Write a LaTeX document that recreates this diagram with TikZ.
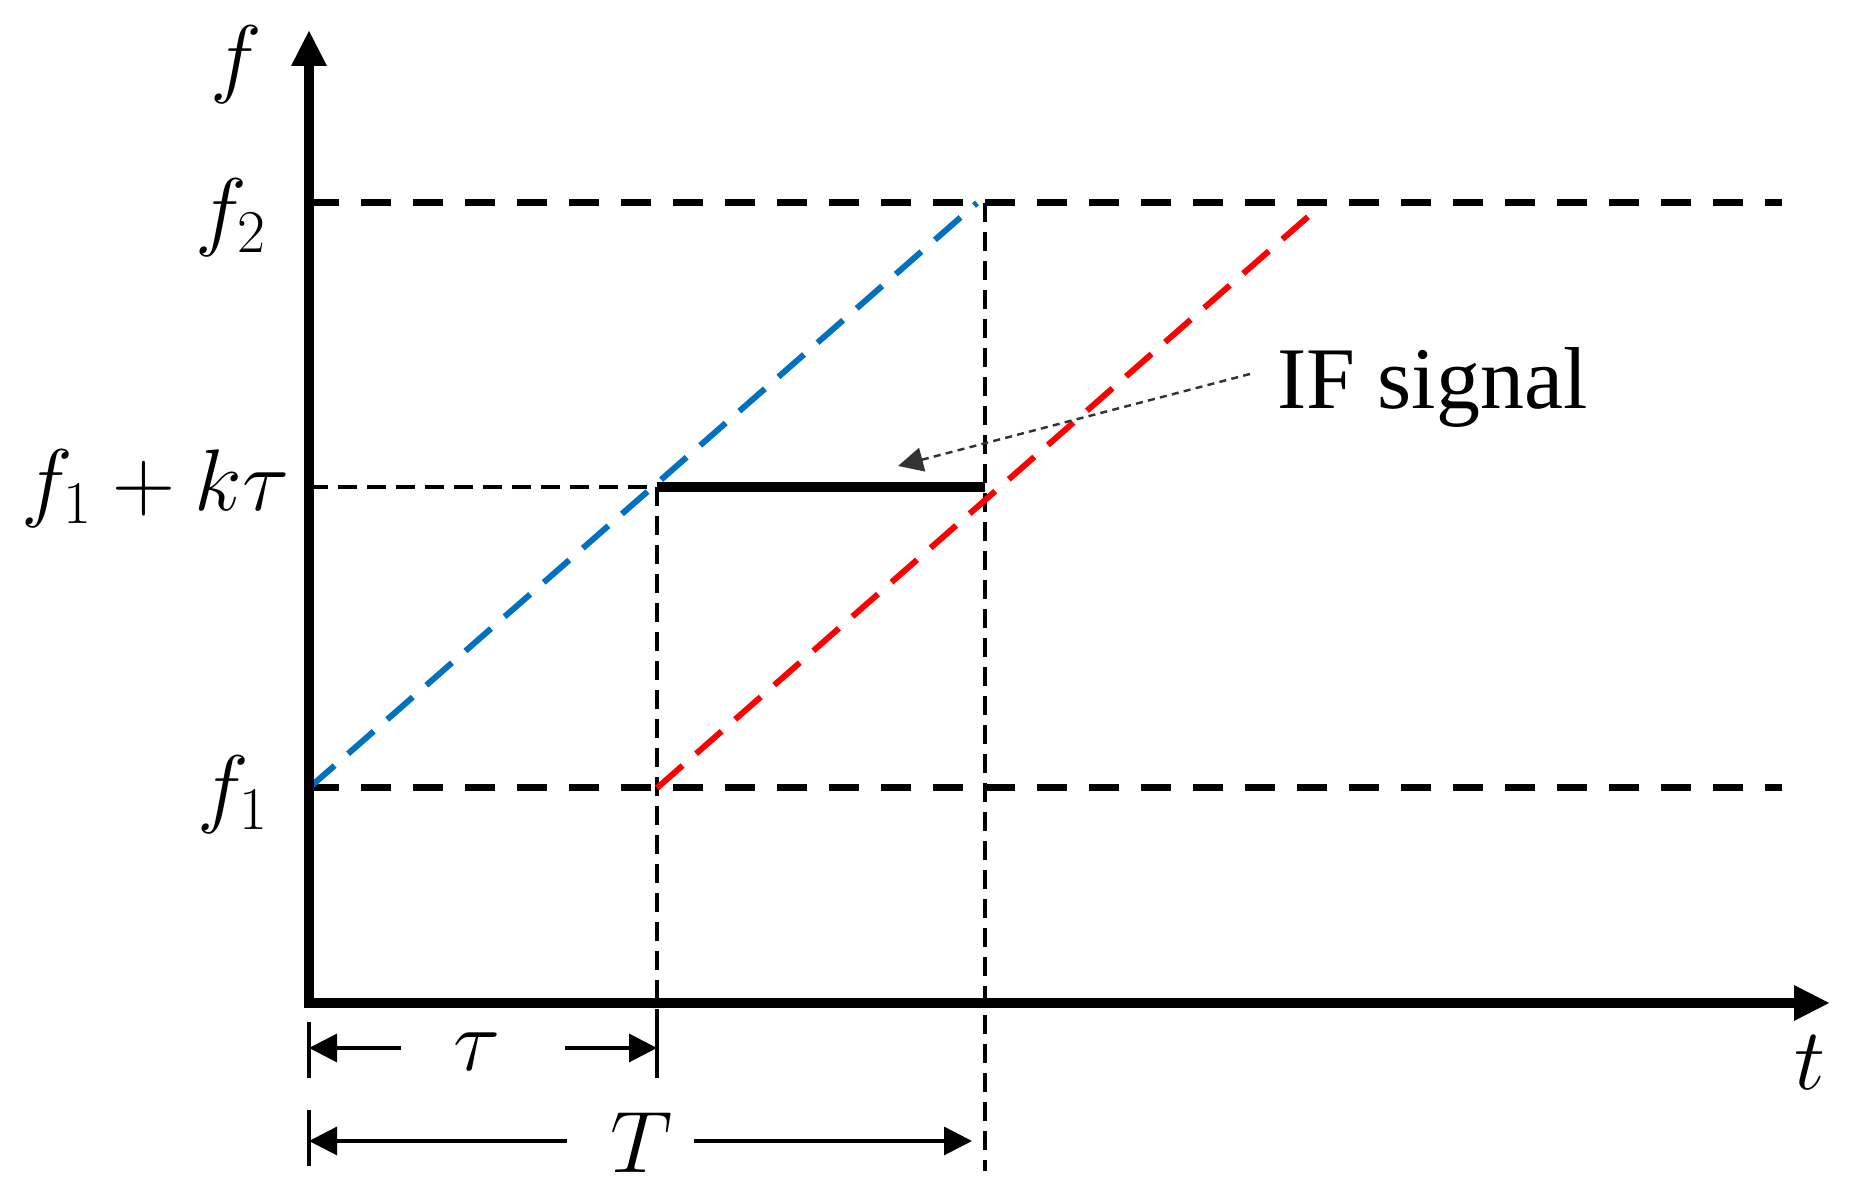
\documentclass[tikz,border=0pt]{standalone}
\usepackage{fontspec}
\newfontfamily\ifserif{Liberation Serif}
\usetikzlibrary{arrows.meta}
\definecolor{chirpblue}{RGB}{0,112,192}
\definecolor{chirpred}{RGB}{255,0,0}
\begin{document}
\begin{tikzpicture}[
  axis/.style={line width=3.1pt,{Triangle[length=0.36cm,width=0.33cm]}-{Triangle[length=0.36cm,width=0.33cm]}},
  level/.style={line width=2pt,dash pattern=on 0.30cm off 0.22cm},
  guide/.style={line width=1.1pt,dash pattern=on 0.19cm off 0.10cm},
  chirp/.style={line width=1.7pt,dash pattern=on 0.34cm off 0.18cm},
  dimline/.style={line width=0.9pt,-{Triangle[length=0.28cm,width=0.28cm]}},
  ifarrow/.style={line width=0.7pt,black!80,dash pattern=on 2pt off 1.5pt,-{Triangle[length=0.25cm,width=0.24cm]}},
  tickmark/.style={line width=1.1pt},
  lab/.style={font=\fontsize{25}{30}\selectfont,inner sep=0pt}]
\useasboundingbox (0,0) rectangle (18.5,11.9);
\coordinate (O) at (3.09,1.87);
\coordinate (ytip) at (3.09,11.60);
\coordinate (xtip) at (18.30,1.87);
\coordinate (f1a) at (3.09,4.02);
\coordinate (f1b) at (17.82,4.02);
\coordinate (f2a) at (3.09,9.87);
\coordinate (f2b) at (17.82,9.87);
\coordinate (fka) at (3.09,7.03);
\coordinate (fkb) at (6.57,7.03);
\coordinate (fkc) at (9.85,7.03);
\coordinate (Ttop) at (9.85,9.87);
\coordinate (blueend) at (9.77,9.87);
\coordinate (redstart) at (6.57,4.02);
\coordinate (redend) at (13.10,9.75);
% levels and guides
\draw[level] (f2a) -- (f2b);
\draw[level] (f1a) -- (f1b);
\draw[guide] (fka) -- (fkb);
\draw[guide] (fkb) -- (6.57,1.68);
\draw[guide] (Ttop) -- (9.85,0.19);
% sweeps
\draw[chirp,chirpblue] (f1a) -- (blueend);
\draw[chirp,chirpred] (redstart) -- (redend);
\draw[line width=3.1pt] (fkb) -- (fkc);
\draw[axis] (ytip) -- (O) -- (xtip);
% labels
\node[lab] (flab) at (2.36,11.25) {$f$};
\node[lab,anchor=east] (f2lab) at (2.68,9.72) {$f_2$};
\node[lab,anchor=east] (fklab) at (2.90,7.01) {$f_1+k\tau$};
\node[lab,anchor=east] (f1lab) at (2.70,3.95) {$f_1$};
\node[lab] (tlab) at (18.10,1.27) {$t$};
\node[lab] (taulab) at (4.77,1.38) {$\tau$};
\node[lab] (Tlab) at (6.42,0.47) {$T$};
\node[font=\ifserif\fontsize{25}{30}\selectfont,anchor=base west,inner sep=0pt] (iflab) at (12.77,7.81) {IF signal};
\coordinate (ifstart) at (12.50,8.16);
\coordinate (iftip) at (8.98,7.24);
\draw[ifarrow] (ifstart) -- (iftip);
% tau and T spans
\draw[tickmark] (3.09,1.68) -- (3.09,1.12);
\draw[tickmark] (6.57,1.68) -- (6.57,1.12);
\draw[tickmark] (3.09,0.80) -- (3.09,0.24);
\coordinate (tauL) at (4.01,1.42);
\coordinate (tauR) at (5.65,1.42);
\coordinate (TL) at (5.67,0.49);
\coordinate (TR) at (6.94,0.49);
\draw[dimline] (tauL) -- (3.09,1.42);
\draw[dimline] (tauR) -- (6.57,1.42);
\draw[dimline] (TL) -- (3.09,0.49);
\draw[dimline] (TR) -- (9.72,0.49);
\end{tikzpicture}
\end{document}
